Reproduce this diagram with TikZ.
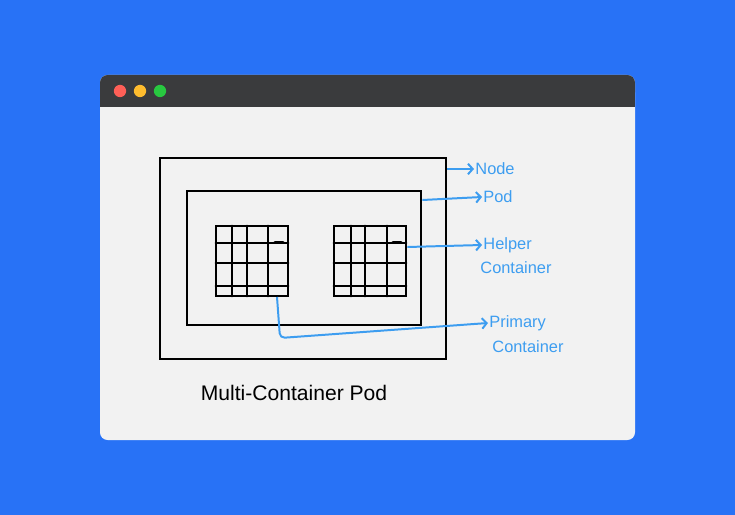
\documentclass[tikz,border=0pt]{standalone}
\usepackage{fontspec}
\setmainfont{Liberation Sans}
\usetikzlibrary{arrows.meta}
\definecolor{bgblue}{HTML}{2872F6}
\definecolor{winbg}{HTML}{F2F2F2}
\definecolor{barbg}{HTML}{3A3B3D}
\definecolor{lblue}{HTML}{3D9DF0}
\definecolor{tlred}{HTML}{FE5F57}
\definecolor{tlyellow}{HTML}{FEBC2E}
\definecolor{tlgreen}{HTML}{28C840}
\tikzset{
  box/.style={draw, line width=2.4pt, inner sep=0pt},
  gridline/.style={line width=2.4pt, line cap=round},
  conn/.style={draw=lblue, line width=1.7pt, -{Straight Barb[length=4pt,width=9pt]}},
  lbl/.style={text=lblue, anchor=west, font=\fontsize{14}{16}\selectfont, inner sep=1pt},
  light/.style={circle, minimum size=10.5pt, inner sep=0pt}
}
\begin{document}
\begin{tikzpicture}[x=0.03cm,y=-0.03cm]
\useasboundingbox[fill=bgblue] (0,0) rectangle (735,515);
% window
\fill[winbg, rounded corners=6.5pt] (100,75) rectangle (635,440);
\fill[barbg, rounded corners=6.5pt] (100,75) rectangle (635,100);
\fill[barbg] (100,90) rectangle (635,107);
\node[light, fill=tlred] (red) at (120,91){};
\node[light, fill=tlyellow] (yellow) at (140,91){};
\node[light, fill=tlgreen] (green) at (160,91){};
% boxes
\node[box, minimum width=8.58cm, minimum height=6.03cm] (node) at (303,258.5){};
\node[box, minimum width=7.02cm, minimum height=4.02cm] (pod) at (304,258){};
\node[box, minimum width=2.16cm, minimum height=2.1cm] (gridL) at (252,261){};
\node[box, minimum width=2.16cm, minimum height=2.1cm] (gridR) at (370,261){};
\foreach \x in {232,247,268} \draw[gridline] (\x,226) -- (\x,296);
\foreach \x in {351,365,387} \draw[gridline] (\x,226) -- (\x,296);
\foreach \y in {243,263,286} {
  \draw[gridline] (216,\y) -- (288,\y);
  \draw[gridline] (334,\y) -- (406,\y);
}
\draw[gridline] (275,242) -- (283,242);
\draw[gridline] (393,242) -- (401,242);
% labels
\node[lbl] (nodelbl) at (474,169){Node};
\node[lbl] (podlbl) at (482,197){Pod};
\node[lbl] (helperlbl) at (482,245){Helper};
\node[lbl] (helperlbl2) at (479,268){Container};
\node[lbl] (primlbl) at (488,323){Primary};
\node[lbl] (primlbl2) at (491,347){Container};
\node[font=\fontsize{18}{20}\selectfont] (caption) at (294,393){Multi-Container Pod};
% connectors
\draw[conn] (node.east |- nodelbl) -- (nodelbl.west);
\draw[conn] (pod.east |- 0,200) -- (podlbl.west);
\draw[conn] (gridR.east |- 0,247) -- (helperlbl.west);
\coordinate (ptap) at (277,297);
\draw[conn, rounded corners=4pt] (ptap) -- ++(3,41) -- (primlbl.west);
\end{tikzpicture}
\end{document}
